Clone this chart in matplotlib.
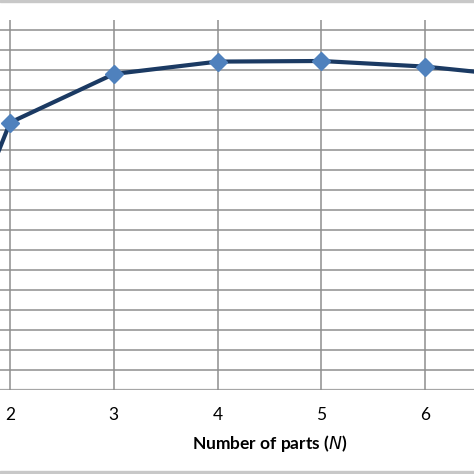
import matplotlib
matplotlib.use("Agg")
import matplotlib.pyplot as plt
from matplotlib.patches import Rectangle

parts = [1, 2, 3, 4, 5, 6, 7]
values = [0.35, 13.37, 15.8, 16.42, 16.45, 16.17, 15.64]
xticks = [2, 3, 4, 5, 6]

W = H = 474
fig = plt.figure(figsize=(4.74, 4.74), dpi=100)
ax = fig.add_axes([0, (H - 390) / H, 1, (390 - 20) / H])
ax.set_xlim(2 - 10 / 103.8, 2 + 464 / 103.8)
ax.set_ylim(0, 18.5)

for y in range(1, 19):
    ax.axhline(y, color="#8e8e8e", lw=1.1, zorder=1)
ax.axhline(0, color="#a6a6a6", lw=1.6, zorder=1)
for x in xticks:
    ax.axvline(x, color="#8e8e8e", lw=1.1, zorder=1)

ax.plot(parts, values, color="#1b3a63", lw=3.0, marker="D", markersize=9,
        markerfacecolor="#4f81bd", markeredgecolor="#4f81bd", zorder=3)

for s in ax.spines.values():
    s.set_visible(False)
ax.set_xticks(xticks)
ax.set_xticklabels([str(t) for t in xticks], fontsize=12.5, family="Lato")
ax.tick_params(axis="x", length=0, pad=12)
ax.set_yticks([])

fig.text(269.5 / W, 1 - 443 / H, "Number of parts ($\\mathbf{\\mathit{N}}$)", fontsize=12.5,
         fontweight="bold", family="Lato", ha="center", va="center")

fig.patches.append(Rectangle((0, 1 - 2 / H), 1, 2 / H, transform=fig.transFigure,
                             color="#c8c8c8", zorder=0))
fig.patches.append(Rectangle((0, 0), 1, 3 / H, transform=fig.transFigure,
                             color="#c8c8c8", zorder=0))

fig.savefig("out.png", dpi=100)
